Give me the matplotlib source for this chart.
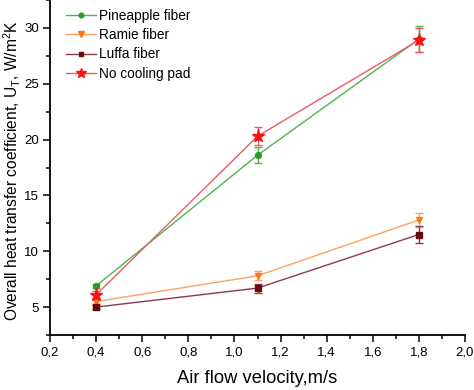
import matplotlib
matplotlib.use("Agg")
import matplotlib.pyplot as plt
from matplotlib.ticker import MultipleLocator, FuncFormatter
from matplotlib.lines import Line2D

plt.rcParams['font.family'] = ['Liberation Sans', 'DejaVu Sans']
plt.rcParams['mathtext.fontset'] = 'custom'
plt.rcParams['mathtext.rm'] = 'Liberation Sans'
plt.rcParams['mathtext.it'] = 'Liberation Sans'

velocity = [0.4, 1.1, 1.8]
pineapple = [6.9, 18.6, 29.0]
pineapple_err = [0.2, 0.7, 1.2]
ramie = [5.5, 7.8, 12.8]
ramie_err = [0.2, 0.4, 0.6]
luffa = [5.0, 6.7, 11.5]
luffa_err = [0.2, 0.4, 0.8]
nocool = [6.1, 20.3, 28.9]
nocool_err = [0.3, 0.8, 1.1]

fig = plt.figure(figsize=(4.74, 3.9), dpi=100)
ax = fig.add_axes([50/474, 55/390, 415/474, 335/390])

series = [
    ("Pineapple fiber", pineapple, pineapple_err, '#4cb848', '#2a9a26', 'o', 4.2),
    ("Ramie fiber", ramie, ramie_err, '#ffa060', '#f57a20', 'v', 5),
    ("Luffa fiber", luffa, luffa_err, '#8a3a48', '#6a0a10', 's', 4.2),
    ("No cooling pad", nocool, nocool_err, '#f05868', '#ff1010', '*', 9.5),
]
handles = []
for label, y, e, lc, mc, m, ms in series:
    ax.errorbar(velocity, y, yerr=e, color=lc, lw=1.0, marker=m, ms=ms,
                mfc=mc, mec=mc, capsize=3, elinewidth=1.0, ecolor=lc)
    handles.append(Line2D([], [], color=lc, lw=1.0, marker=m, ms=ms*0.8,
                          mfc=mc, mec=mc, label=label))

ax.set_xlim(0.2, 2.0)
ax.set_ylim(2.5, 32.5)
ax.xaxis.set_major_locator(MultipleLocator(0.2))
ax.xaxis.set_minor_locator(MultipleLocator(0.1))
ax.yaxis.set_major_locator(MultipleLocator(5))
ax.yaxis.set_minor_locator(MultipleLocator(2.5))
ax.xaxis.set_major_formatter(FuncFormatter(lambda v, p: f"{v:.1f}".replace('.', ',')))
ax.yaxis.set_major_formatter(FuncFormatter(lambda v, p: f"{v:.0f}"))
ax.tick_params(which='major', direction='out', length=5, width=1.1, labelsize=9.5, pad=3)
ax.tick_params(which='minor', direction='out', length=3, width=1.1)
for s in ['top', 'right']:
    ax.spines[s].set_visible(False)
for s in ['left', 'bottom']:
    ax.spines[s].set_linewidth(1.3)

ax.set_xlabel("Air flow velocity,m/s", fontsize=13.2)
ax.xaxis.set_label_coords(0.5, -0.105)
ax.set_ylabel("Overall heat transfer coefficient, U$_\\mathrm{T}$, W/m$^2$K", fontsize=11.2)
ax.yaxis.set_label_coords(-0.066, 0.49)

fig.legend(handles=handles, loc='upper left', bbox_to_anchor=(66/474, 1 - 9/390),
           frameon=False, fontsize=9.8, handlelength=2.2, labelspacing=0.38,
           handletextpad=0.25, borderaxespad=0, borderpad=0)

fig.savefig("out.png", dpi=100)
